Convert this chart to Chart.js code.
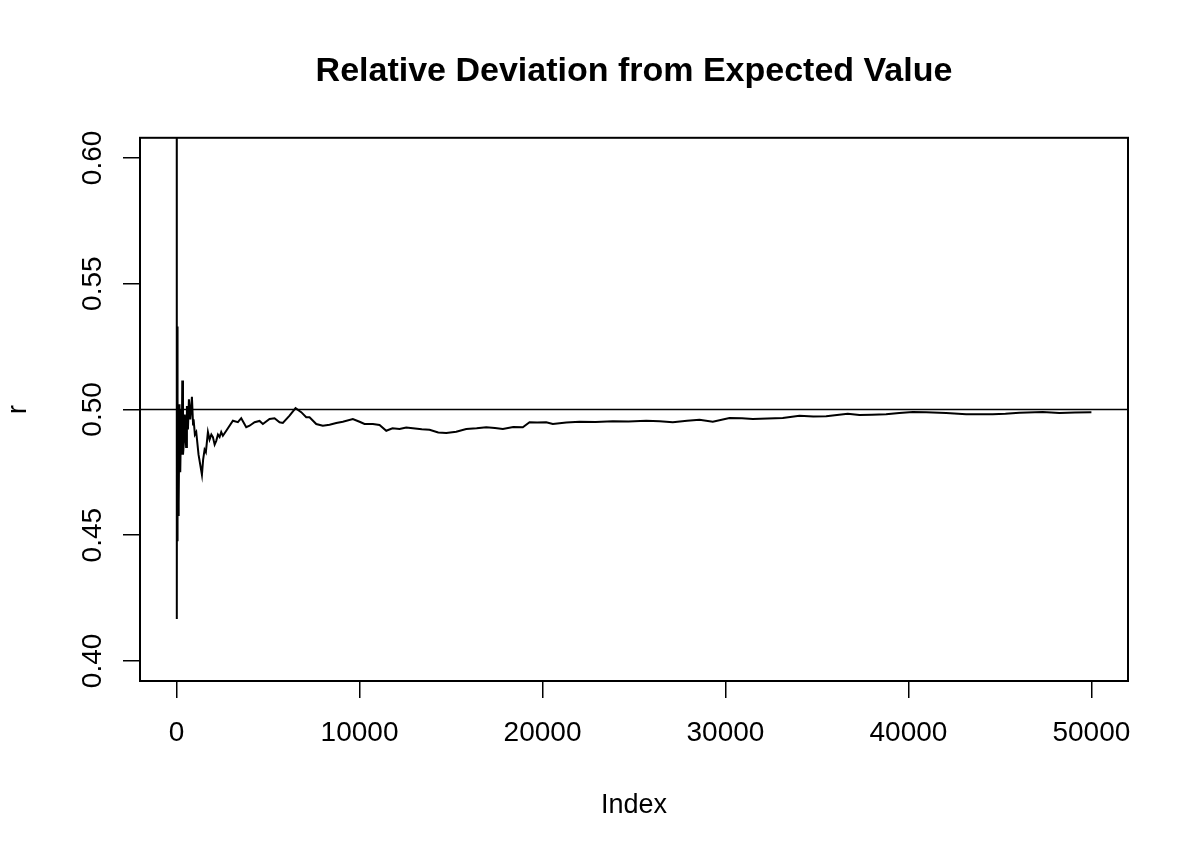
<!DOCTYPE html>
<html><head><meta charset="utf-8">
<script src="https://cdn.jsdelivr.net/npm/chart.js@4/dist/chart.umd.min.js"></script>
<style>html,body{margin:0;padding:0;background:#fff}#wrap{width:1200px;height:857px}</style>
</head><body><div id="wrap"><canvas id="c" width="1200" height="857"></canvas></div>
<script>
// ---- data ----
const indexValues = [
  1, 12, 25, 45, 60, 80, 100, 128, 160, 200, 255, 280, 310, 350, 400, 450, 520, 564, 620, 674,
  747, 838, 900, 929, 1000, 1074, 1200, 1385, 1450, 1530, 1600, 1712, 1803, 1900, 1985, 2080, 2167, 2260, 2350, 2440,
  2531, 2715, 3077, 3350, 3533, 3806, 3989, 4262, 4535, 4716, 5081, 5354, 5628, 5808, 6174, 6502, 6811, 7085, 7267, 7633,
  7990, 8360, 8726, 9087, 9633, 10000, 10272, 10727, 11093, 11459, 11800, 12186, 12550, 12913, 13400, 13825, 14300, 14738, 15284, 15831,
  16400, 16924, 17400, 17831, 18400, 18924, 19290, 19700, 20202, 20563, 21300, 22022, 22900, 23842, 24700, 25667, 26400, 27120, 27900, 28579,
  29306, 30219, 30900, 31492, 32300, 33131, 34044, 34800, 35503, 36683, 37322, 38000, 38781, 39500, 40235, 40967, 42060, 43153, 44000, 44607,
  45300, 46066, 47339, 48251, 49100, 50000
];
const rValues = [
  1.0, 0.4167, 0.533, 0.4476, 0.505, 0.458, 0.500, 0.463, 0.502, 0.475, 0.500, 0.482, 0.5115, 0.482, 0.487, 0.498, 0.485, 0.5014, 0.492, 0.504,
  0.496, 0.505, 0.494, 0.496, 0.490, 0.491, 0.482, 0.474, 0.480, 0.484, 0.483, 0.491, 0.488, 0.490, 0.489, 0.486, 0.4875, 0.490, 0.489, 0.491,
  0.4895, 0.4915, 0.4955, 0.4949, 0.4965, 0.4929, 0.4935, 0.4949, 0.4954, 0.4942, 0.4962, 0.4965, 0.4949, 0.4946, 0.4975, 0.5005, 0.4989, 0.4969, 0.4969, 0.4942,
  0.4935, 0.4939, 0.4946, 0.4951, 0.4962, 0.4951, 0.4942, 0.4942, 0.4938, 0.4915, 0.4925, 0.4922, 0.4928, 0.4925, 0.4921, 0.4919, 0.4908, 0.4906, 0.4911, 0.4922,
  0.4925, 0.4929, 0.4926, 0.4922, 0.4930, 0.4929, 0.4949, 0.4948, 0.4949, 0.4942, 0.4948, 0.4951, 0.4950, 0.4953, 0.4952, 0.4955, 0.4953, 0.4949, 0.4955, 0.4959,
  0.4951, 0.4966, 0.4965, 0.4962, 0.4964, 0.4966, 0.4975, 0.4972, 0.4973, 0.4983, 0.4978, 0.4979, 0.4981, 0.4986, 0.4990, 0.4989, 0.4986, 0.4981, 0.4981, 0.4981,
  0.4983, 0.4987, 0.4990, 0.4986, 0.4988, 0.4989
];
const expectedValue = 0.5;
const xTicks = [0, 10000, 20000, 30000, 40000, 50000];
const yTicks = [0.40, 0.45, 0.50, 0.55, 0.60];
const xRange = [-2000, 52000];
const yRange = [0.392, 0.608];
const titleText = 'Relative Deviation from Expected Value';
const xTitle = 'Index';
const yTitle = 'r';

// ---- chart ----
const FONT = 'Liberation Sans, Arial, sans-serif';
Chart.defaults.font.family = FONT;
Chart.defaults.color = '#000';

const series = indexValues.map((x, i) => ({x: x, y: rValues[i]}));
const refLine = [{x: xRange[0], y: expectedValue}, {x: xRange[1], y: expectedValue}];

const boxPlugin = {
  id: 'box',
  afterDatasetsDraw(chart) {
    const a = chart.chartArea, ctx = chart.ctx;
    ctx.save();
    ctx.strokeStyle = '#000';
    ctx.lineWidth = 2;
    ctx.strokeRect(a.left, a.top, a.right - a.left, a.bottom - a.top);
    ctx.restore();
  }
};

new Chart(document.getElementById('c'), {
  type: 'scatter',
  data: {
    datasets: [
      {data: series, showLine: true, borderColor: '#000', borderWidth: 2, pointRadius: 0, tension: 0, clip: 0},
      {data: refLine, showLine: true, borderColor: '#000', borderWidth: 1.5, pointRadius: 0, clip: 0}
    ]
  },
  options: {
    responsive: false,
    animation: false,
    devicePixelRatio: 1,
    layout: {padding: {left: 0, right: 72, top: 0, bottom: 0}},
    plugins: {
      legend: {display: false},
      tooltip: {enabled: false},
      title: {
        display: true, text: titleText, fullSize: false, color: '#000',
        font: {family: FONT, size: 34, weight: 'bold'},
        padding: {top: 51, bottom: 46}
      }
    },
    scales: {
      x: {
        type: 'linear', min: xRange[0], max: xRange[1],
        afterBuildTicks: s => { s.ticks = xTicks.map(v => ({value: v})); },
        afterFit: s => { s.height = 176; s.paddingLeft = 0; s.paddingRight = 0; },
        ticks: {font: {family: FONT, size: 28}, color: '#000', padding: 18, maxRotation: 0, autoSkip: false,
                callback: v => String(v)},
        grid: {drawOnChartArea: false, drawTicks: true, tickLength: 17, color: '#000', lineWidth: 1.5},
        border: {display: true, color: '#000', width: 2},
        title: {display: true, text: xTitle, color: '#000', font: {family: FONT, size: 27}, padding: {top: 0, bottom: 35}}
      },
      y: {
        type: 'linear', min: yRange[0], max: yRange[1],
        afterBuildTicks: s => { s.ticks = yTicks.map(v => ({value: v})); },
        afterFit: s => { s.width = 140; s.paddingTop = 0; s.paddingBottom = 0; },
        ticks: {font: {family: FONT, size: 28}, color: '#000', padding: 2, minRotation: 90, maxRotation: 90,
                crossAlign: 'center', autoSkip: false, callback: v => v.toFixed(2)},
        grid: {drawOnChartArea: false, drawTicks: true, tickLength: 17, color: '#000', lineWidth: 1.5},
        border: {display: true, color: '#000', width: 2},
        title: {display: true, text: yTitle, color: '#000', font: {family: FONT, size: 27}, padding: {top: 2, bottom: 0}}
      }
    }
  },
  plugins: [boxPlugin]
});
</script>
</body></html>
